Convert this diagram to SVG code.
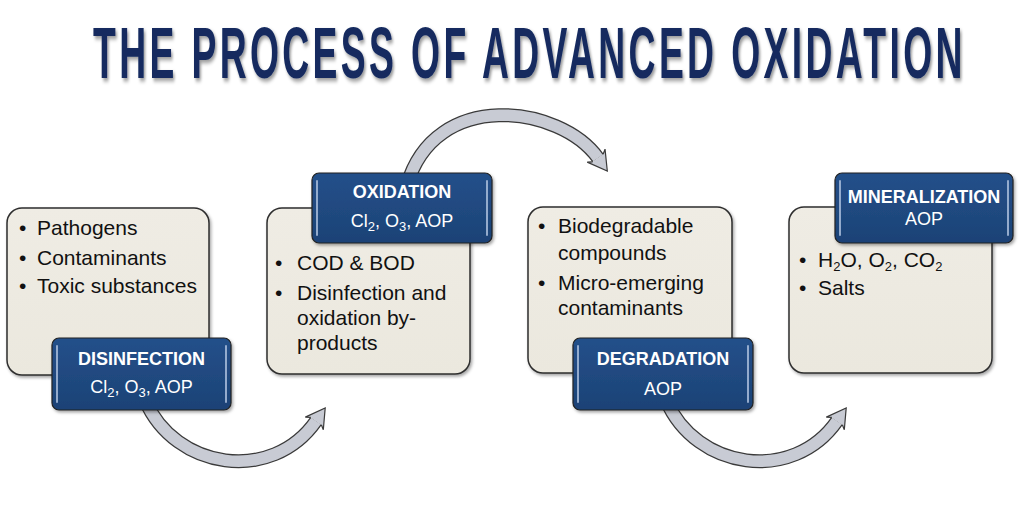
<svg xmlns="http://www.w3.org/2000/svg" width="1024" height="519" viewBox="0 0 1024 519">
<defs>
<linearGradient id="boxFill" x1="0" y1="0" x2="0" y2="1">
<stop offset="0" stop-color="#efece4"/>
<stop offset="1" stop-color="#ebe8de"/>
</linearGradient>
<linearGradient id="labFill" x1="0" y1="0" x2="0" y2="1">
<stop offset="0" stop-color="#24508a"/>
<stop offset="1" stop-color="#1c4276"/>
</linearGradient>
<filter id="shadow" x="-10%" y="-10%" width="125%" height="130%">
<feDropShadow dx="1.5" dy="2" stdDeviation="1.5" flood-color="#000" flood-opacity="0.35"/>
</filter>
<filter id="tshadow" x="-5%" y="-20%" width="110%" height="150%">
<feDropShadow dx="3" dy="3" stdDeviation="2" flood-color="#000" flood-opacity="0.4"/>
</filter>
<g id="head"><path d="M -16 -6.5 L -19 -11 L 0 0 L -19 11 L -16 6.5" fill="#c8cbd4" stroke="#3a3a3a" stroke-width="1.2" stroke-linejoin="miter"/></g>
</defs>
<style>
.box{fill:url(#boxFill);stroke:#2e2e2e;stroke-width:1.5;filter:url(#shadow)}
.lab{fill:url(#labFill);stroke:#222;stroke-width:1.2;filter:url(#shadow)}
.strip{stroke:#a9bddb;stroke-width:2;stroke-linecap:round;opacity:0.85}
.txt{font-family:"Liberation Sans",Arial,sans-serif;font-size:21px;fill:#111}
.lt1{font-family:"Liberation Sans",Arial,sans-serif;font-size:18px;font-weight:bold;fill:#fff;text-anchor:middle}
.lt2{font-family:"Liberation Sans",Arial,sans-serif;font-size:18px;fill:#fff;text-anchor:middle}
.sub{font-size:13px}
.bandO{fill:none;stroke:#3a3a3a;stroke-width:14}
.bandI{fill:none;stroke:#c8cbd4;stroke-width:11.5}
.title{font-family:"Liberation Sans",Arial,sans-serif;font-size:72px;font-weight:bold;letter-spacing:6.5px;fill:#142a5e;filter:url(#tshadow)}
</style>
<rect width="1024" height="519" fill="#ffffff"/>
<text class="title" transform="translate(93 78) scale(0.518 1)" x="0" y="0">THE PROCESS OF ADVANCED OXIDATION</text>

<g id="connectors">
<g id="arrow1">
<path class="bandO" d="M 145 400 C 175 470, 272 484, 316 421"/>
<path class="bandI" d="M 145 400 C 175 470, 272 484, 316 421"/>
<use href="#head" transform="translate(325.2 407.9) rotate(-55)"/>
</g>
<g id="arrow2">
<path class="bandO" d="M 407 185 C 435 88, 560 105, 598 158"/>
<path class="bandI" d="M 407 185 C 435 88, 560 105, 598 158"/>
<use href="#head" transform="translate(607.3 171) rotate(54)"/>
</g>
<g id="arrow3" transform="translate(521 0)">
<path class="bandO" d="M 145 400 C 175 470, 272 484, 316 421"/>
<path class="bandI" d="M 145 400 C 175 470, 272 484, 316 421"/>
<use href="#head" transform="translate(325.2 407.9) rotate(-55)"/>
</g>
</g>

<g id="node-disinfection">
<rect class="box" x="7" y="208" width="202" height="167" rx="15"/>
<text class="txt" x="19" y="235">•</text><text class="txt" x="37" y="235">Pathogens</text>
<text class="txt" x="19" y="265">•</text><text class="txt" x="37" y="265">Contaminants</text>
<text class="txt" x="19" y="293">•</text><text class="txt" x="37" y="293">Toxic substances</text>
<rect class="lab" x="52" y="338" width="179" height="72" rx="7"/>
<line class="strip" x1="57" y1="346" x2="57" y2="402"/>
<line class="strip" x1="226" y1="346" x2="226" y2="402"/>
<text class="lt1" x="141.5" y="365">DISINFECTION</text>
<text class="lt2" x="141.5" y="393">Cl<tspan class="sub" dy="4">2</tspan><tspan dy="-4">, O</tspan><tspan class="sub" dy="4">3</tspan><tspan dy="-4">, AOP</tspan></text>
</g>

<g id="node-oxidation">
<rect class="box" x="267" y="208" width="203" height="166" rx="15"/>
<text class="txt" x="275" y="270">•</text><text class="txt" x="297" y="270">COD &amp; BOD</text>
<text class="txt" x="275" y="300">•</text><text class="txt" x="297" y="300">Disinfection and</text>
<text class="txt" x="297" y="325">oxidation by-</text>
<text class="txt" x="297" y="350">products</text>
<rect class="lab" x="312" y="173" width="180" height="70" rx="7"/>
<line class="strip" x1="317" y1="181" x2="317" y2="235"/>
<line class="strip" x1="487" y1="181" x2="487" y2="235"/>
<text class="lt1" x="402" y="198">OXIDATION</text>
<text class="lt2" x="402" y="227">Cl<tspan class="sub" dy="4">2</tspan><tspan dy="-4">, O</tspan><tspan class="sub" dy="4">3</tspan><tspan dy="-4">, AOP</tspan></text>
</g>

<g id="node-degradation">
<rect class="box" x="528" y="207" width="204" height="166" rx="15"/>
<text class="txt" x="538" y="233">•</text><text class="txt" x="558" y="233">Biodegradable</text>
<text class="txt" x="558" y="260">compounds</text>
<text class="txt" x="538" y="290">•</text><text class="txt" x="558" y="290">Micro-emerging</text>
<text class="txt" x="558" y="315">contaminants</text>
<rect class="lab" x="573" y="338" width="180" height="72" rx="7"/>
<line class="strip" x1="578" y1="346" x2="578" y2="402"/>
<line class="strip" x1="748" y1="346" x2="748" y2="402"/>
<text class="lt1" x="663" y="365">DEGRADATION</text>
<text class="lt2" x="663" y="395">AOP</text>
</g>

<g id="node-mineralization">
<rect class="box" x="789" y="207" width="203" height="166" rx="15"/>
<text class="txt" x="799" y="267">•</text><text class="txt" x="818" y="267">H<tspan class="sub" dy="4">2</tspan><tspan dy="-4">O, O</tspan><tspan class="sub" dy="4">2</tspan><tspan dy="-4">, CO</tspan><tspan class="sub" dy="4">2</tspan></text>
<text class="txt" x="799" y="295">•</text><text class="txt" x="818" y="295">Salts</text>
<rect class="lab" x="835" y="173" width="178" height="70" rx="7"/>
<line class="strip" x1="840" y1="181" x2="840" y2="235"/>
<line class="strip" x1="1008" y1="181" x2="1008" y2="235"/>
<text class="lt1" x="924" y="203">MINERALIZATION</text>
<text class="lt2" x="924" y="225">AOP</text>
</g>
</svg>
